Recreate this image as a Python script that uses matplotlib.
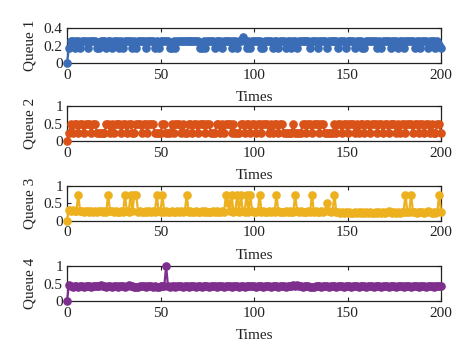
import matplotlib
matplotlib.use("Agg")
import matplotlib.pyplot as plt

plt.rcParams['font.family'] = ['Liberation Serif', 'DejaVu Serif']

times = list(range(0, 201))

queue1 = [
    0, 0.17, 0.25, 0.25, 0.17, 0.25, 0.25, 0.17, 0.25, 0.25, 0.25, 0.17, 0.25, 0.25, 0.25, 0.25, 0.17, 0.17, 0.25, 0.25,
    0.25, 0.17, 0.25, 0.25, 0.17, 0.25, 0.25, 0.25, 0.17, 0.25, 0.17, 0.25, 0.25, 0.25, 0.25, 0.17, 0.25, 0.17, 0.25, 0.25,
    0.25, 0.25, 0.17, 0.25, 0.25, 0.25, 0.25, 0.17, 0.25, 0.17, 0.25, 0.25, 0.25, 0.25, 0.25, 0.17, 0.17, 0.25, 0.17, 0.25,
    0.25, 0.25, 0.25, 0.25, 0.25, 0.25, 0.25, 0.25, 0.25, 0.25, 0.25, 0.17, 0.17, 0.25, 0.17, 0.25, 0.25, 0.25, 0.25, 0.17,
    0.25, 0.25, 0.25, 0.17, 0.25, 0.25, 0.25, 0.25, 0.17, 0.25, 0.25, 0.17, 0.25, 0.25, 0.30, 0.25, 0.17, 0.25, 0.17, 0.25,
    0.25, 0.25, 0.25, 0.25, 0.17, 0.17, 0.25, 0.25, 0.25, 0.25, 0.17, 0.25, 0.25, 0.17, 0.25, 0.25, 0.25, 0.17, 0.25, 0.25,
    0.17, 0.25, 0.25, 0.17, 0.25, 0.25, 0.25, 0.25, 0.25, 0.25, 0.17, 0.25, 0.25, 0.25, 0.17, 0.25, 0.25, 0.25, 0.25, 0.17,
    0.25, 0.25, 0.25, 0.25, 0.25, 0.17, 0.25, 0.25, 0.25, 0.17, 0.25, 0.25, 0.25, 0.25, 0.17, 0.25, 0.25, 0.25, 0.17, 0.17,
    0.25, 0.25, 0.25, 0.25, 0.25, 0.25, 0.17, 0.25, 0.17, 0.25, 0.25, 0.25, 0.25, 0.17, 0.25, 0.25, 0.25, 0.17, 0.25, 0.25,
    0.17, 0.25, 0.25, 0.25, 0.25, 0.25, 0.17, 0.25, 0.25, 0.17, 0.25, 0.25, 0.25, 0.17, 0.25, 0.25, 0.25, 0.17, 0.25, 0.21, 0.17,
]

queue2 = [
    0, 0.22, 0.5, 0.22, 0.5, 0.5, 0.22, 0.5, 0.5, 0.22, 0.5, 0.5, 0.5, 0.22, 0.5, 0.5, 0.22, 0.22, 0.22, 0.22,
    0.22, 0.5, 0.5, 0.22, 0.5, 0.22, 0.5, 0.5, 0.5, 0.22, 0.5, 0.5, 0.22, 0.5, 0.5, 0.22, 0.22, 0.5, 0.5, 0.5,
    0.22, 0.5, 0.5, 0.22, 0.5, 0.5, 0.5, 0.22, 0.22, 0.22, 0.22, 0.5, 0.5, 0.22, 0.22, 0.22, 0.5, 0.22, 0.5, 0.5,
    0.5, 0.22, 0.5, 0.22, 0.22, 0.5, 0.5, 0.22, 0.5, 0.5, 0.22, 0.5, 0.5, 0.5, 0.22, 0.5, 0.5, 0.22, 0.22, 0.22,
    0.5, 0.5, 0.22, 0.5, 0.22, 0.5, 0.5, 0.5, 0.22, 0.5, 0.22, 0.22, 0.22, 0.5, 0.5, 0.22, 0.5, 0.5, 0.22, 0.5,
    0.5, 0.22, 0.5, 0.5, 0.22, 0.5, 0.5, 0.5, 0.22, 0.5, 0.22, 0.5, 0.5, 0.22, 0.5, 0.5, 0.22, 0.22, 0.22, 0.22,
    0.22, 0.5, 0.22, 0.22, 0.22, 0.22, 0.5, 0.5, 0.22, 0.5, 0.5, 0.22, 0.5, 0.5, 0.5, 0.22, 0.5, 0.5, 0.22, 0.22,
    0.22, 0.22, 0.22, 0.5, 0.22, 0.5, 0.5, 0.22, 0.5, 0.5, 0.22, 0.5, 0.5, 0.5, 0.22, 0.5, 0.22, 0.5, 0.5, 0.22,
    0.5, 0.5, 0.22, 0.5, 0.5, 0.5, 0.22, 0.5, 0.5, 0.22, 0.5, 0.5, 0.22, 0.5, 0.5, 0.5, 0.22, 0.5, 0.22, 0.5,
    0.5, 0.22, 0.5, 0.5, 0.5, 0.22, 0.5, 0.5, 0.22, 0.5, 0.5, 0.22, 0.5, 0.5, 0.22, 0.5, 0.22, 0.22, 0.5, 0.5, 0.22,
]

queue3 = [
    0, 0.3, 0.28, 0.3, 0.29, 0.28, 0.75, 0.27, 0.28, 0.26, 0.27, 0.28, 0.26, 0.27, 0.25, 0.27, 0.26, 0.28, 0.27, 0.26,
    0.27, 0.26, 0.75, 0.27, 0.28, 0.26, 0.27, 0.25, 0.26, 0.27, 0.26, 0.75, 0.27, 0.26, 0.75, 0.27, 0.75, 0.75, 0.26, 0.27,
    0.26, 0.25, 0.27, 0.26, 0.28, 0.26, 0.27, 0.26, 0.75, 0.27, 0.26, 0.75, 0.26, 0.27, 0.25, 0.26, 0.27, 0.26, 0.25, 0.27,
    0.26, 0.27, 0.26, 0.27, 0.75, 0.26, 0.27, 0.25, 0.26, 0.27, 0.26, 0.25, 0.27, 0.26, 0.27, 0.26, 0.25, 0.26, 0.27, 0.26,
    0.27, 0.26, 0.25, 0.27, 0.26, 0.75, 0.5, 0.27, 0.75, 0.26, 0.27, 0.75, 0.26, 0.75, 0.27, 0.26, 0.75, 0.26, 0.75, 0.27,
    0.26, 0.25, 0.27, 0.75, 0.26, 0.27, 0.26, 0.25, 0.27, 0.26, 0.27, 0.26, 0.75, 0.27, 0.26, 0.25, 0.26, 0.27, 0.26, 0.27,
    0.26, 0.25, 0.75, 0.27, 0.26, 0.27, 0.26, 0.25, 0.26, 0.27, 0.26, 0.75, 0.26, 0.27, 0.26, 0.25, 0.27, 0.26, 0.27, 0.5,
    0.27, 0.26, 0.27, 0.75, 0.26, 0.25, 0.24, 0.25, 0.24, 0.25, 0.24, 0.25, 0.24, 0.24, 0.25, 0.24, 0.25, 0.24, 0.25, 0.24,
    0.25, 0.24, 0.25, 0.24, 0.24, 0.25, 0.24, 0.25, 0.24, 0.25, 0.24, 0.25, 0.27, 0.25, 0.24, 0.25, 0.24, 0.25, 0.24, 0.25,
    0.26, 0.75, 0.26, 0.25, 0.75, 0.26, 0.25, 0.24, 0.25, 0.26, 0.25, 0.24, 0.25, 0.27, 0.25, 0.24, 0.25, 0.24, 0.25, 0.75, 0.26,
]

queue4 = [
    0, 0.47, 0.42, 0.41, 0.43, 0.42, 0.40, 0.42, 0.43, 0.41, 0.42, 0.44, 0.42, 0.41, 0.43, 0.42, 0.44, 0.43, 0.45, 0.43,
    0.42, 0.41, 0.43, 0.42, 0.40, 0.42, 0.43, 0.41, 0.42, 0.43, 0.42, 0.41, 0.44, 0.45, 0.44, 0.42, 0.40, 0.39, 0.41, 0.42,
    0.43, 0.42, 0.41, 0.42, 0.43, 0.42, 0.41, 0.42, 0.40, 0.41, 0.42, 0.43, 0.42, 1.00, 0.42, 0.41, 0.43, 0.42, 0.41, 0.42,
    0.43, 0.42, 0.41, 0.43, 0.42, 0.41, 0.42, 0.43, 0.42, 0.41, 0.42, 0.43, 0.41, 0.42, 0.43, 0.42, 0.41, 0.42, 0.43, 0.42,
    0.41, 0.42, 0.43, 0.42, 0.41, 0.42, 0.43, 0.42, 0.41, 0.42, 0.43, 0.42, 0.41, 0.43, 0.42, 0.41, 0.42, 0.43, 0.44, 0.43,
    0.42, 0.41, 0.42, 0.43, 0.42, 0.41, 0.42, 0.43, 0.42, 0.41, 0.42, 0.43, 0.42, 0.41, 0.42, 0.43, 0.42, 0.41, 0.42, 0.43,
    0.44, 0.45, 0.44, 0.45, 0.43, 0.42, 0.41, 0.42, 0.43, 0.42, 0.41, 0.40, 0.41, 0.42, 0.43, 0.42, 0.41, 0.42, 0.43, 0.42,
    0.41, 0.42, 0.43, 0.42, 0.41, 0.42, 0.43, 0.42, 0.41, 0.42, 0.43, 0.42, 0.41, 0.42, 0.43, 0.42, 0.41, 0.42, 0.43, 0.42,
    0.41, 0.42, 0.43, 0.42, 0.41, 0.42, 0.43, 0.42, 0.41, 0.42, 0.43, 0.42, 0.41, 0.42, 0.43, 0.42, 0.41, 0.42, 0.43, 0.42,
    0.41, 0.42, 0.43, 0.42, 0.41, 0.42, 0.43, 0.42, 0.41, 0.42, 0.43, 0.42, 0.41, 0.42, 0.43, 0.42, 0.41, 0.42, 0.43, 0.44, 0.43,
]

series = [queue1, queue2, queue3, queue4]
labels = ["Queue 1", "Queue 2", "Queue 3", "Queue 4"]
colors = ["#3A6DB5", "#D95319", "#EDB120", "#7E2F8E"]
ylims = [(0, 0.4), (0, 1), (0, 1), (0, 1)]
yticks = [[0, 0.2, 0.4], [0, 0.5, 1], [0, 0.5, 1], [0, 0.5, 1]]
yticklabels = [["0", "0.2", "0.4"], ["0", "0.5", "1"], ["0", "0.5", "1"], ["0", "0.5", "1"]]
xticks = [0, 50, 100, 150, 200]

fig = plt.figure(figsize=(4.74, 3.61), dpi=100)
bottoms = [0.825, 0.609, 0.388, 0.166]
height = 0.097
left, width = 0.1414, 0.789

for i in range(4):
    ax = fig.add_axes([left, bottoms[i], width, height])
    ax.plot(times, series[i], '-o', color=colors[i], markerfacecolor=colors[i],
            markeredgecolor=colors[i], markersize=5.2, linewidth=1.6, clip_on=False, zorder=3)
    ax.set_xlim(0, 200)
    ax.set_ylim(*ylims[i])
    ax.set_xticks(xticks)
    ax.set_yticks(yticks[i])
    ax.set_yticklabels(yticklabels[i])
    ax.tick_params(direction='in', top=True, right=True, labelsize=11, length=3, width=0.8,
                   colors='#222222')
    ax.tick_params(axis='x', pad=4)
    ax.tick_params(axis='y', pad=3)
    ax.set_xlabel("Times", fontsize=11, labelpad=7, color='#222222')
    ax.set_ylabel(labels[i], fontsize=11, labelpad=5, color='#222222')
    for sp in ax.spines.values():
        sp.set_linewidth(0.9)
        sp.set_color('#222222')

fig.savefig("out.png", dpi=100)
